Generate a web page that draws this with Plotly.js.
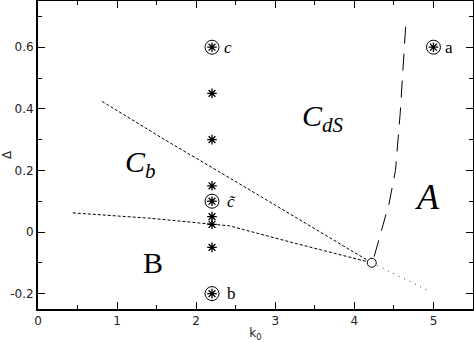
<!DOCTYPE html>
<html><head><meta charset="utf-8">
<script src="https://cdn.plot.ly/plotly-3.0.1.min.js"></script>
<style>html,body{margin:0;padding:0;background:#fff}</style>
</head><body><div id="chart" style="width:474px;height:342px"></div>
<script>
// Simulation points (asterisks) at k0 = 2.2 and point a
const starK = [2.2, 2.2, 2.2, 2.2, 2.2, 2.2, 2.2, 2.2, 2.2, 5.0];
const starD = [0.6, 0.45, 0.3, 0.15, 0.1, 0.05, 0.025, -0.05, -0.2, 0.6];
// Circled points
const circK = [2.2, 2.2, 2.2, 5.0];
const circD = [0.6, 0.1, -0.2, 0.6];
// Boundary Cb / CdS (short dashes)
const upperK = [0.81, 1.6, 2.42, 3.3, 4.22];
const upperD = [0.424, 0.30, 0.176, 0.04, -0.1];
// Boundary B / Cb (short dashes, with kink)
const lowerK = [0.44, 1.4, 2.42, 3.3, 4.22];
const lowerD = [0.062, 0.045, 0.02, -0.04, -0.1];
// Continuation (fine dots)
const dotK = [4.22, 4.93];
const dotD = [-0.1, -0.19];
// Boundary A / CdS (long dashes)
const longK = [4.25, 4.36, 4.44, 4.52, 4.58, 4.65];
const longD = [-0.08, 0.018, 0.094, 0.2, 0.387, 0.673];
// Triple point
const tripleK = [4.22];
const tripleD = [-0.1];
// Tick labels
const xTicks = [0, 1, 2, 3, 4, 5];
const xTickText = ['0', '1', '2', '3', '4', '5'];
const yTicks = [-0.2, 0, 0.2, 0.4, 0.6];
const yTickText = ['-0.2', '0', '0.2', '0.4', '0.6'];
// Labels
const labelText = ['<i>c</i>', '<i>c̃</i>', 'b', 'a'];
const labelK = [2.4, 2.45, 2.45, 5.2];
const labelD = [0.6, 0.1, -0.2, 0.6];
const regionText = ['<i>C</i><sub><i>dS</i></sub>', '<i>C</i><sub><i>b</i></sub>', '<i>A</i>', 'B'];
const regionK = [3.6, 1.3, 4.93, 1.46];
const regionD = [0.37, 0.22, 0.115, -0.1];

const serif = 'Liberation Serif, DejaVu Serif, serif';
const traces = [
  {x: upperK, y: upperD, mode: 'lines', line: {color: '#000', width: 1, dash: '3px,2px'}},
  {x: lowerK, y: lowerD, mode: 'lines', line: {color: '#000', width: 1, dash: '3px,2px'}},
  {x: dotK, y: dotD, mode: 'lines', line: {color: '#333', width: 1, dash: '1px,5px'}},
  {x: longK, y: longD, mode: 'lines', line: {color: '#000', width: 1, dash: '17px,10px'}},
  {x: starK, y: starD, mode: 'markers', marker: {symbol: 'asterisk-open', size: 8, color: '#000', line: {color: '#000', width: 1.3}}},
  {x: circK, y: circD, mode: 'markers', marker: {symbol: 'circle-open', size: 14, color: '#000', line: {color: '#000', width: 1}}},
  {x: tripleK, y: tripleD, mode: 'markers', marker: {symbol: 'circle', size: 9, color: '#fff', line: {color: '#000', width: 1}}}
];
const annotations = [];
for (let i = 0; i < labelText.length; i++) {
  annotations.push({x: labelK[i], y: labelD[i], text: labelText[i], showarrow: false,
    font: {family: serif, size: 17, color: '#000'}});
}
const regionSizes = [30, 30, 36, 30];
for (let i = 0; i < regionText.length; i++) {
  annotations.push({x: regionK[i], y: regionD[i], text: regionText[i], showarrow: false,
    font: {family: serif, size: regionSizes[i], color: '#000'}});
}
const axisCommon = {showline: true, linewidth: 2, linecolor: '#000', mirror: 'ticks',
  ticks: 'inside', ticklen: 7, tickwidth: 1, tickcolor: '#000', showgrid: false, zeroline: false,
  tickfont: {family: 'DejaVu Sans, sans-serif', size: 12, color: '#222'}};
const layout = {
  width: 474, height: 342, showlegend: false,
  paper_bgcolor: '#fff', plot_bgcolor: '#fff',
  margin: {l: 38, r: 1, t: 1, b: 33},
  xaxis: Object.assign({}, axisCommon, {range: [0, 5.5], tickvals: xTicks, ticktext: xTickText,
    minor: {dtick: 0.5, ticks: 'inside', ticklen: 4, tickcolor: '#000', showgrid: false},
    title: {text: 'k<sub>0</sub>', standoff: 2, font: {family: 'DejaVu Sans, sans-serif', size: 12, color: '#222'}}}),
  yaxis: Object.assign({}, axisCommon, {range: [-0.25, 0.75], tickvals: yTicks, ticktext: yTickText,
    minor: {dtick: 0.1, ticks: 'inside', ticklen: 4, tickcolor: '#000', showgrid: false},
    title: {text: 'Δ', standoff: 4, font: {family: 'DejaVu Sans, sans-serif', size: 12, color: '#222'}}}),
  annotations: annotations
};
Plotly.newPlot('chart', traces, layout, {displayModeBar: false, staticPlot: true});
</script></body></html>
